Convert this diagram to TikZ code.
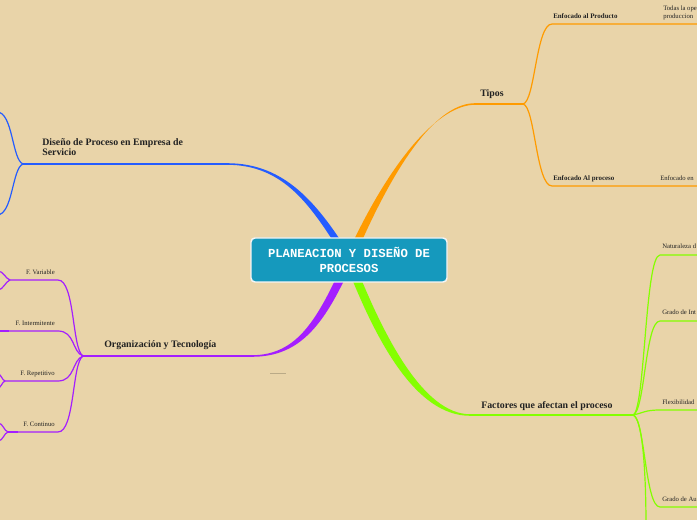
\documentclass[tikz,border=0pt]{standalone}
\usepackage{fontspec}
\setmainfont{Liberation Serif}
\newfontfamily\monob{Liberation Mono}
\definecolor{bg}{HTML}{E9D4A9}
\definecolor{cblue}{HTML}{245CFF}
\definecolor{corange}{HTML}{FF9B00}
\definecolor{cpurple}{HTML}{A41EFF}
\definecolor{cgreen}{HTML}{84FF00}
\definecolor{ccenter}{HTML}{1599BD}
\definecolor{ctext}{HTML}{222222}
\begin{document}
\begin{tikzpicture}[x=0.75pt,y=-0.75pt,
  lbl/.style={font=\fontsize{7.4}{7.5}\selectfont\bfseries, text=ctext, inner sep=0pt},
  sml/.style={font=\fontsize{5}{6}\selectfont, text=ctext, inner sep=0pt},
  smb/.style={font=\fontsize{5.2}{6}\selectfont\bfseries, text=ctext, inner sep=0pt},
  sub/.style={line width=0.9pt},
  hub/.style={line width=1.9pt},
  centerbox/.style={draw=white!92!gray, line width=1.1pt, fill=ccenter, rounded corners=3pt,
    minimum width=147pt, minimum height=33pt, align=center, text=white,
    font=\fontsize{9.2}{10.8}\selectfont\monob\bfseries}
]
\fill[bg] (0,0) rectangle (697,520);
\useasboundingbox (0,0) rectangle (697,520);

% ---------- coordinates ----------
\coordinate (C) at (349,260);
% blue
\coordinate (bE) at (227,164);
\coordinate (bF) at (23,164);
\coordinate (bU) at (-3,112);
\coordinate (bD) at (-3,215);
% orange
\coordinate (oE) at (475,104);
\coordinate (oF) at (523,104);
\coordinate (oH) at (508,104);
\coordinate (oU) at (552,24);
\coordinate (oUr) at (700,24);
\coordinate (oD) at (552,186);
\coordinate (oDr) at (700,186);
% purple
\coordinate (pE) at (252,356);
\coordinate (pF) at (83,356);
\coordinate (pH) at (97,356);
\coordinate (p1) at (58,280); \coordinate (p1l) at (10,280);
\coordinate (p2) at (58,331); \coordinate (p2l) at (-2,331); \coordinate (p2m) at (9,331);
\coordinate (p3) at (58,381); \coordinate (p3l) at (5,381);
\coordinate (p4) at (58,432); \coordinate (p4l) at (8,432); \coordinate (p4m) at (18,432);
\coordinate (p1a) at (-2,271); \coordinate (p1b) at (-2,290);
\coordinate (p3a) at (-2,374); \coordinate (p3b) at (-2,388);
\coordinate (p4a) at (-2,423); \coordinate (p4b) at (-2,441);
% green
\coordinate (gE) at (470,415);
\coordinate (gF) at (633,415);
\coordinate (gH) at (621,415);
\coordinate (g1) at (660,255); \coordinate (g1r) at (700,255);
\coordinate (g2) at (660,321); \coordinate (g2r) at (700,321);
\coordinate (g3) at (660,410); \coordinate (g3r) at (700,410);
\coordinate (g4) at (660,507); \coordinate (g4r) at (700,507);
\coordinate (g5) at (646,526);
% faint mark
\coordinate (m1) at (270,373); \coordinate (m2) at (286,373);

% ---------- sub connectors ----------
\begin{scope}[draw=cblue, sub]
\draw (bE) -- (bF);
\draw (bF) .. controls +(-11,-4) and +(16,0) .. (bU);
\draw (bF) .. controls +(-11,4) and +(16,0) .. (bD);
\end{scope}

\begin{scope}[draw=corange, sub]
\draw (oE) -- (oF);
\draw[hub] (oH) -- (oF);
\draw (oF) .. controls +(12,-2) and +(-16,0) .. (oU) -- (oUr);
\draw (oF) .. controls +(12,2) and +(-16,0) .. (oD) -- (oDr);
\end{scope}

\begin{scope}[draw=cpurple, sub]
\draw (pE) -- (pF);
\draw[hub] (pF) -- (pH);
\draw (pF) .. controls +(-11,-6) and +(17,0) .. (p1) -- (p1l);
\draw (pF) .. controls +(-11,-4) and +(17,0) .. (p2) -- (p2l);
\draw[hub] (p2l) -- (p2m);
\draw (pF) .. controls +(-11,4) and +(17,0) .. (p3) -- (p3l);
\draw (pF) .. controls +(-11,6) and +(17,0) .. (p4) -- (p4l);
\draw[hub] (p4l) -- (p4m);
\draw (p1l) .. controls +(-4,-1) and +(5,0) .. (p1a);
\draw (p1l) .. controls +(-4,1) and +(5,0) .. (p1b);
\draw (p3l) .. controls +(-3,-1) and +(3,0) .. (p3a);
\draw (p3l) .. controls +(-3,1) and +(3,0) .. (p3b);
\draw (p4l) .. controls +(-4,-1) and +(5,0) .. (p4a);
\draw (p4l) .. controls +(-4,1) and +(5,0) .. (p4b);
\end{scope}

\begin{scope}[draw=cgreen, sub]
\draw (gE) -- (gF);
\draw[hub] (gH) -- (gF);
\draw (gF) .. controls +(12,-3) and +(-15,0) .. (g1) -- (g1r);
\draw (gF) .. controls +(12,-3) and +(-15,0) .. (g2) -- (g2r);
\draw (gF) .. controls +(10,-2) and +(-15,0) .. (g3) -- (g3r);
\draw (gF) .. controls +(12,3) and +(-15,0) .. (g4) -- (g4r);
\draw (gF) .. controls +(10,3) and +(0,-50) .. (g5);
\end{scope}

\draw[draw=bg!80!black, line width=0.4pt] (m1) -- (m2);

% ---------- main tapered branches ----------
\fill[cblue] (227,163.2) .. controls (285,163.2) and (318,203) .. (353,260)
  -- (345,260) .. controls (312,207) and (285,164.8) .. (227,164.8) -- cycle;
\fill[corange] (475,103.2) .. controls (440,103.2) and (399,153) .. (353.5,260)
  -- (344.5,260) .. controls (391,157) and (440,104.8) .. (475,104.8) -- cycle;
\fill[cpurple] (252,355.2) .. controls (298,355.2) and (318,318) .. (344.5,260)
  -- (353.5,260) .. controls (326,322) and (302,356.8) .. (252,356.8) -- cycle;
\fill[cgreen] (470,414.2) .. controls (424,414.2) and (384,338) .. (353.5,260)
  -- (344.5,260) .. controls (376,342) and (416,415.8) .. (470,415.8) -- cycle;

% ---------- center ----------
\node[centerbox] (center) at (C) {PLANEACION Y DISEÑO DE\\PROCESOS};

% ---------- labels ----------
\node[lbl, anchor=base west, align=left] (tipos) at (480,97) {Tipos};
\node[lbl, anchor=base west] (dis1) at (42,145.7) {Diseño de Proceso en Empresa de};
\node[lbl, anchor=base west] (dis2) at (42,155.7) {Servicio};
\node[lbl, anchor=base west] (org) at (104,348) {Organización y Tecnología};
\node[lbl, anchor=base west] (fac) at (481,408.3) {Factores que afectan el proceso};

\node[smb, anchor=base west] (ep) at (553,18.3) {Enfocado al Producto};
\node[sml, anchor=base west] (tod1) at (663,10.7) {Todas la ope};
\node[sml, anchor=base west] (tod2) at (663,18.3) {produccion};
\node[smb, anchor=base west] (eap) at (553,180.7) {Enfocado Al proceso};
\node[sml, anchor=base west] (een) at (660,180.7) {Enfocado en};

\node[sml, anchor=base east] (fv) at (55,274.7) {F. Variable};
\node[sml, anchor=base east] (fi) at (55,325.3) {F. Intermitente};
\node[sml, anchor=base east] (fr) at (55,375.7) {F. Repetitivo};
\node[sml, anchor=base east] (fc) at (55,426.3) {F. Continuo};

\node[sml, anchor=base west] (nat) at (662,249) {Naturaleza d};
\node[sml, anchor=base west] (gin) at (662,314.3) {Grado de Int};
\node[sml, anchor=base west] (flx) at (662,404.7) {Flexibilidad};
\node[sml, anchor=base west] (gau) at (662,502) {Grado de Au};
\end{tikzpicture}
\end{document}
